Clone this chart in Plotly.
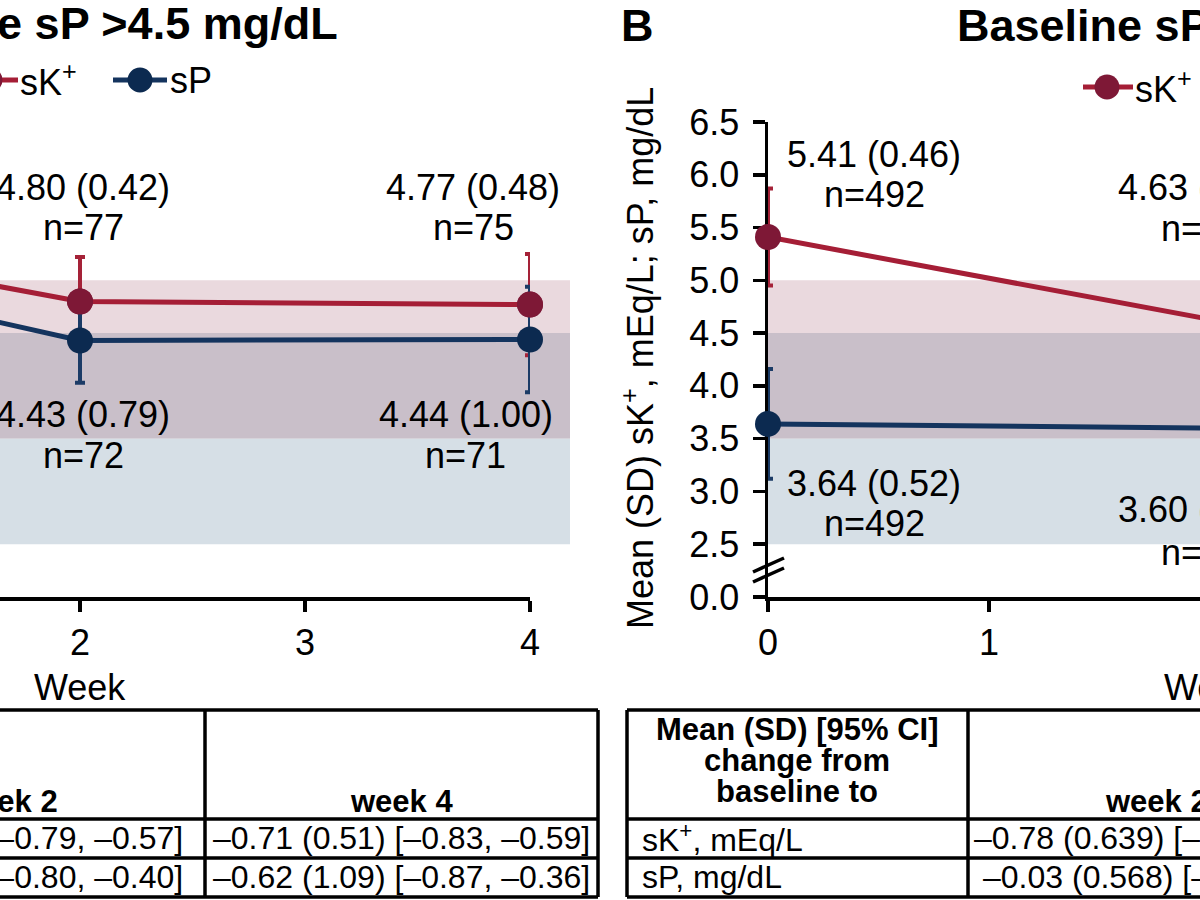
import plotly.graph_objects as go

# ---------------- data ----------------
# Panel A: baseline sP > 4.5 mg/dL
weeks_a = [0, 2, 4]
sk_a = [5.59, 4.80, 4.77]
sk_a_sd = [0.45, 0.42, 0.48]
sk_a_n = [None, 77, 75]
sp_a = [5.39, 4.43, 4.44]
sp_a_sd = [0.60, 0.79, 1.00]
sp_a_bar = [0.30, 0.40, 0.50]      # sP error-bar half lengths as drawn in panel A
sp_a_n = [None, 72, 71]

# Panel B: baseline sP <= 4.5 mg/dL
weeks_b = [0, 2]
sk_b = [5.41, 4.63]
sk_b_sd = [0.46, 0.47]
sk_b_n = [492, 466]
sp_b = [3.64, 3.60]
sp_b_sd = [0.52, 0.55]
sp_b_n = [492, 466]

# normal ranges (shaded bands)
sk_normal = [3.5, 5.0]
sp_normal = [2.5, 4.5]

week_ticks = [0, 1, 2, 3, 4]
y_tickvals = [2.0, 2.5, 3.0, 3.5, 4.0, 4.5, 5.0, 5.5, 6.0, 6.5]
y_ticktext = ["0.0", "2.5", "3.0", "3.5", "4.0", "4.5", "5.0", "5.5", "6.0", "6.5"]

table_a_head = ["week 2", "week 4"]
table_a_sk = ["\u20130.68 (0.49) [\u20130.79, \u20130.57]", "\u20130.71 (0.51) [\u20130.83, \u20130.59]"]
table_a_sp = ["\u20130.60 (0.87) [\u20130.80, \u20130.40]", "\u20130.62 (1.09) [\u20130.87, \u20130.36]"]
table_b_head = ["Mean (SD) [95% CI]", "change from", "baseline to"]
table_b_rows = ["sK<sup>+</sup>, mEq/L", "sP, mg/dL"]
table_b_week = "week 2"
table_b_vals = ["\u20130.78 (0.639) [\u20130.84, \u20130.72]", "\u20130.03 (0.568) [\u20130.08, 0.02]"]

# ---------------- styling / layout constants ----------------
W, H = 1200, 900
TOP, BOT = 122, 597
FONT = "Liberation Sans, Arial, sans-serif"
FS = 36
TFS = 32
HFS = 30
RED, RED_M, RED_E = "#A51E36", "#7E1836", "#A52238"
NAVY, NAVY_M, NAVY_E = "#14345E", "#0C2A50", "#1B3B66"
PINK_ONLY, OVERLAP, BLUE_ONLY = "#EAD9DE", "#C9BFC9", "#D6DFE6"

A_DOM = [0, 530]
A_RANGE = [2 - 80 / 225, 4.0]
B_DOM = [768, 1200]
B_RANGE = [0, 432 / 221]
Y_RANGE = [2.0, 6.5]


def fx(p):
    return p / W


def fy(p):
    return (BOT - p) / (BOT - TOP)


def wk2px(week, panel):
    dom, rng = (A_DOM, A_RANGE) if panel == "A" else (B_DOM, B_RANGE)
    return dom[0] + (week - rng[0]) / (rng[1] - rng[0]) * (dom[1] - dom[0])


fig = go.Figure()


def add_series(x, y, bars, xa, ya, lc, mc, ec):
    fig.add_trace(go.Scatter(
        x=x, y=y, xaxis=xa, yaxis=ya, mode="lines+markers",
        line=dict(color=lc, width=5),
        marker=dict(size=26, color=mc),
        error_y=dict(type="data", array=bars, color=ec, thickness=4, width=5),
        cliponaxis=False, showlegend=False, hoverinfo="skip"))


def add_markers(x, y, xa, ya, mc):
    fig.add_trace(go.Scatter(
        x=x, y=y, xaxis=xa, yaxis=ya, mode="markers",
        marker=dict(size=26, color=mc),
        cliponaxis=False, showlegend=False, hoverinfo="skip"))


add_series(weeks_a, sk_a, sk_a_sd, "x", "y", RED, RED_M, RED_E)
add_series(weeks_a, sp_a, sp_a_bar, "x", "y", NAVY, NAVY_M, NAVY_E)
add_markers(weeks_a, sk_a, "x", "y", RED_M)
add_series(weeks_b, sk_b, sk_b_sd, "x2", "y2", RED, RED_M, RED_E)
add_series(weeks_b, sp_b, sp_b_sd, "x2", "y2", NAVY, NAVY_M, NAVY_E)

shapes = []
# bands
bands = [
    (sp_normal[1], sk_normal[1], PINK_ONLY),
    (sk_normal[0], sp_normal[1], OVERLAP),
    (sp_normal[0], sk_normal[0], BLUE_ONLY),
]
for lo, hi, col in bands:
    shapes.append(dict(type="rect", xref="x domain", yref="y", x0=0, x1=570 / 530,
                       y0=lo, y1=hi, fillcolor=col, line=dict(width=0), layer="below"))
    shapes.append(dict(type="rect", xref="x2 domain", yref="y2", x0=0, x1=1,
                       y0=lo, y1=hi, fillcolor=col, line=dict(width=0), layer="below"))

# axis break marks on panel B y axis
for yc in (565, 575):
    shapes.append(dict(type="line", xref="paper", yref="paper",
                       x0=fx(753), x1=fx(784), y0=fy(yc + 7), y1=fy(yc - 7),
                       line=dict(color="black", width=3.5), layer="above"))


def hline(x0, x1, y, w=3.5):
    shapes.append(dict(type="line", xref="paper", yref="paper", x0=fx(x0), x1=fx(x1),
                       y0=fy(y), y1=fy(y), line=dict(color="black", width=w), layer="above"))


def vline(x, y0, y1, w=3.5):
    shapes.append(dict(type="line", xref="paper", yref="paper", x0=fx(x), x1=fx(x),
                       y0=fy(y0), y1=fy(y1), line=dict(color="black", width=w), layer="above"))


# tables
T_TOP, T_HEAD, T_ROW, T_BOT = 710, 819, 858, 897
for y in (T_TOP, T_HEAD, T_ROW, T_BOT):
    hline(-20, 598, y)
    hline(627, 1220, y)
vline(205, T_TOP, T_BOT)
vline(598, T_TOP, T_BOT)
vline(627, T_TOP, T_BOT)
vline(968, T_TOP, T_BOT)


# legend keys
def legend_key(xl, xr, xc, yc, lc, mc):
    shapes.append(dict(type="line", xref="paper", yref="paper", x0=fx(xl), x1=fx(xr),
                       y0=fy(yc), y1=fy(yc), line=dict(color=lc, width=5), layer="above"))
    shapes.append(dict(type="circle", xref="paper", yref="paper",
                       x0=fx(xc - 12.5), x1=fx(xc + 12.5), y0=fy(yc + 12.5), y1=fy(yc - 12.5),
                       fillcolor=mc, line=dict(width=0), layer="above"))


legend_key(-40, 18, -10, 80, RED, RED_M)
legend_key(113, 167, 140, 80, NAVY, NAVY_M)
legend_key(1083, 1133, 1107, 87, RED, RED_M)

annotations = []


def ann(text, x, y, size=FS, bold=False, xanchor="center", angle=0):
    if bold:
        text = "<b>" + text + "</b>"
    annotations.append(dict(text=text, x=fx(x), y=fy(y), xref="paper", yref="paper",
                            showarrow=False, xanchor=xanchor, yanchor="middle",
                            textangle=angle, borderpad=0,
                            font=dict(family=FONT, size=size, color="black")))


# titles and legend text
ann("Baseline sP &gt;4.5 mg/dL", 339, 24, size=45, bold=True, xanchor="right")
ann("B", 620, 26, size=45, bold=True, xanchor="left")
ann("Baseline sP \u22644.5 mg/dL", 956, 26, size=45, bold=True, xanchor="left")
ann("sK<sup>+</sup>", 19, 80, xanchor="left")
ann("sP", 169, 80, xanchor="left")
ann("sK<sup>+</sup>", 1134, 87, xanchor="left")

# y-axis title of panel B
ann("Mean (SD) sK<sup>+</sup>, mEq/L; sP, mg/dL", 638, 358, angle=-90)

# x-axis titles (centered on each full week axis)
ann("Week", wk2px(2, "A"), 687)
ann("Week", wk2px(2, "B"), 687)

# value labels
lab_a = {"sK": (sk_a, sk_a_sd, sk_a_n, (187, 227), {2: 3, 4: -57}),
         "sP": (sp_a, sp_a_sd, sp_a_n, (414, 455), {2: 3, 4: -64})}
for key, (vals, sds, ns, (y1, y2), shifts) in lab_a.items():
    for wk, v, sd, n in zip(weeks_a, vals, sds, ns):
        if n is None:
            continue
        cx = wk2px(wk, "A") + shifts[wk]
        ann(f"{v:.2f} ({sd:.2f})", cx, y1)
        ann(f"n={n}", cx, y2)

lab_b = {"sK": (sk_b, sk_b_sd, sk_b_n, {0: (154, 194), 2: (187, 228)}),
         "sP": (sp_b, sp_b_sd, sp_b_n, {0: (483, 523), 2: (509, 552)})}
b_shift_val = {0: 106, 2: -5}
b_shift_n = {0: 106, 2: 1}
for key, (vals, sds, ns, ys) in lab_b.items():
    for wk, v, sd, n in zip(weeks_b, vals, sds, ns):
        base = wk2px(wk, "B")
        ann(f"{v:.2f} ({sd:.2f})", base + b_shift_val[wk], ys[wk][0])
        ann(f"n={n}", base + b_shift_n[wk], ys[wk][1])

# table text
A_HEAD_X = [6, 401.5]
A_CELL_X = [-6, 401.5]
for hx, cx, head, r1, r2 in zip(A_HEAD_X, A_CELL_X, table_a_head, table_a_sk, table_a_sp):
    ann(head, hx, 801, size=HFS + 1, bold=True)
    ann(r1, cx, 838, size=TFS)
    ann(r2, cx, 877, size=TFS)

for txt, y in zip(table_b_head, (729, 760, 791)):
    ann(txt, 797, y, size=HFS + 1, bold=True)
for txt, y in zip(table_b_rows, (838, 877)):
    ann(txt, 641, y, size=TFS, xanchor="left")
ann(table_b_week, 1156, 801, size=HFS + 1, bold=True)
for txt, y in zip(table_b_vals, (838, 877)):
    ann(txt, 1171, y, size=TFS)

axis_common = dict(ticks="outside", tickcolor="black", tickwidth=3.5, showline=True,
                   linewidth=3.5, linecolor="black", showgrid=False, zeroline=False,
                   tickfont=dict(family=FONT, size=FS, color="black"), fixedrange=True)

fig.update_layout(
    width=W, height=H,
    margin=dict(l=0, r=0, t=TOP, b=H - BOT, pad=0, autoexpand=False),
    paper_bgcolor="white", plot_bgcolor="rgba(0,0,0,0)",
    showlegend=False,
    font=dict(family=FONT, size=FS, color="black"),
    xaxis=dict(domain=[A_DOM[0] / W, A_DOM[1] / W], range=A_RANGE, tickvals=week_ticks,
               ticklen=11, anchor="y", ticklabelstandoff=0, **axis_common),
    yaxis=dict(domain=[0, 1], range=Y_RANGE, visible=False, anchor="x", fixedrange=True),
    xaxis2=dict(domain=[B_DOM[0] / W, B_DOM[1] / W], range=B_RANGE, tickvals=week_ticks,
                ticklen=11, anchor="y2", ticklabelstandoff=0, **axis_common),
    yaxis2=dict(domain=[0, 1], range=Y_RANGE, anchor="x2", tickvals=y_tickvals,
                ticktext=y_ticktext, ticklen=12, layer="below traces",
                ticklabelstandoff=6, **axis_common),
    shapes=shapes,
    annotations=annotations,
)

fig.write_html("out.html", config={"displayModeBar": False, "staticPlot": True},
               post_script="document.body.style.margin='0';document.body.style.overflow='hidden';")
